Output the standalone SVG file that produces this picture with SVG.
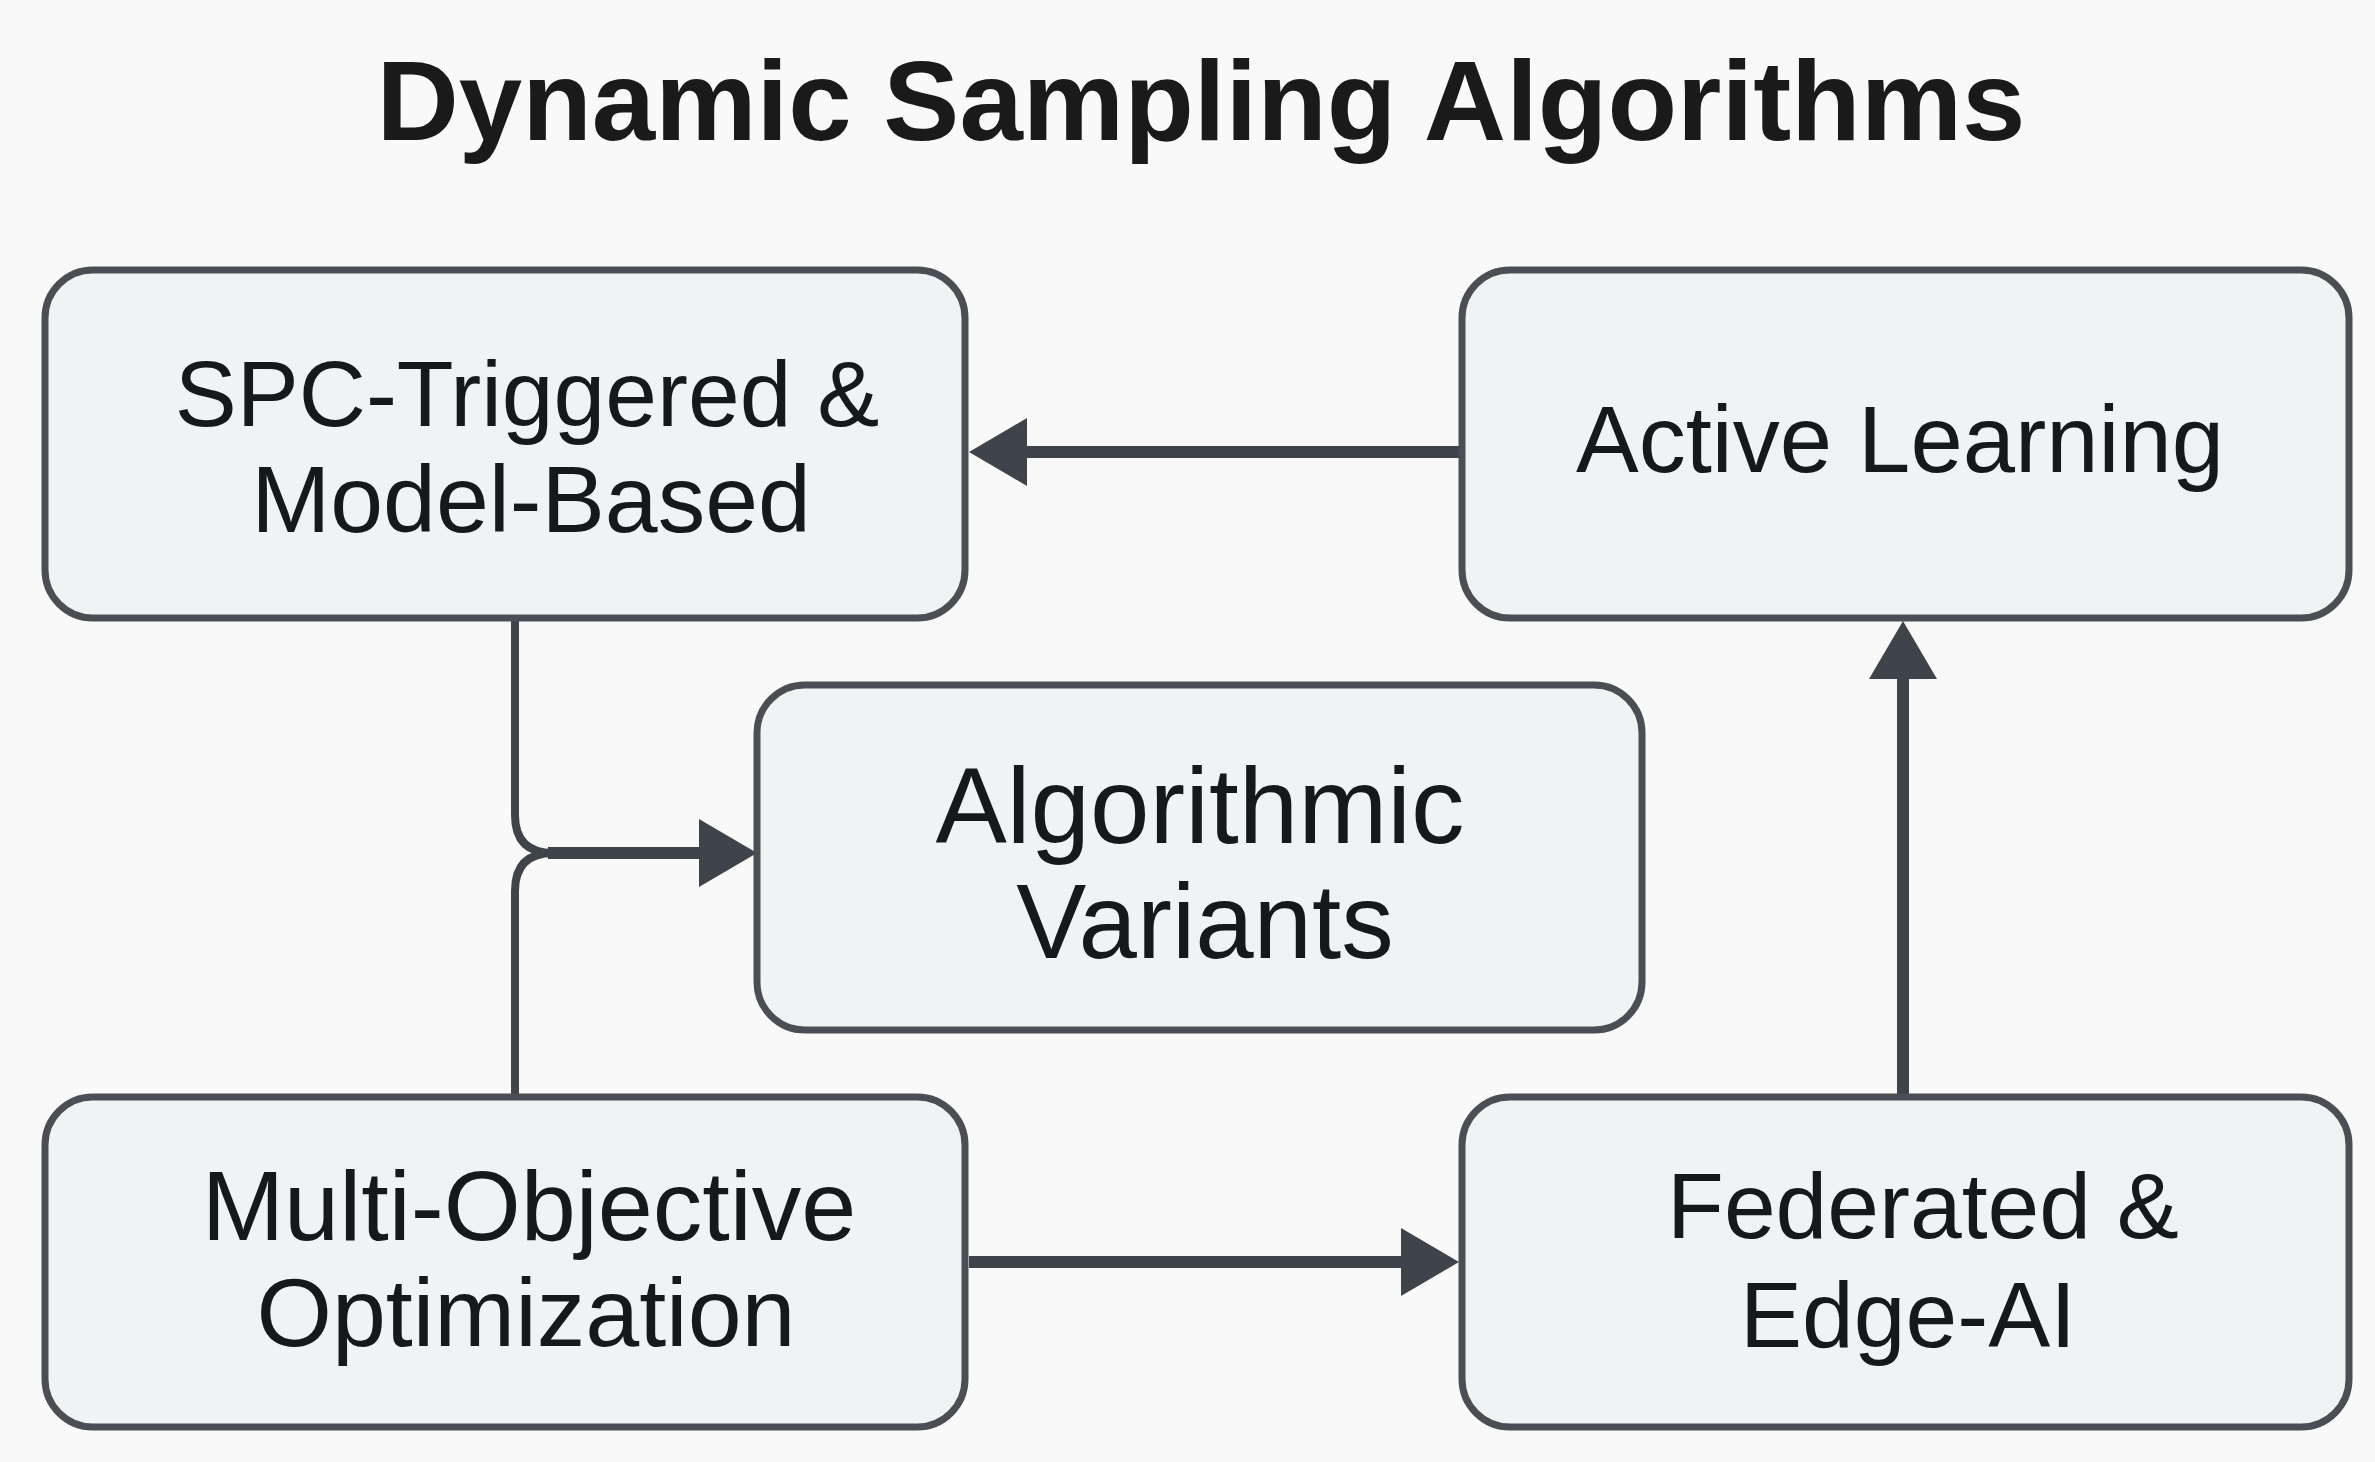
<svg xmlns="http://www.w3.org/2000/svg" width="2375" height="1462" viewBox="0 0 2375 1462">
<style>
.bg{fill:#f9f9f9}
.box{fill:#f1f2f4;stroke:#4b4f55;stroke-width:7}
.lbl{font-family:"Liberation Sans",Arial,sans-serif;fill:#16181b;text-anchor:middle}
.title{font-family:"Liberation Sans",Arial,sans-serif;font-weight:bold;fill:#1a1a1a;text-anchor:middle;font-size:114px}
.ln{fill:none;stroke:#3f434a;stroke-width:12}
.ln2{fill:none;stroke:#3f434a;stroke-width:8}
.ah{fill:#3f434a}
</style>
<rect class="bg" x="0" y="0" width="2375" height="1462"/>
<text class="title" x="1201" y="140">Dynamic Sampling Algorithms</text>
<g id="connectors">
  <line class="ln" x1="1462" y1="452" x2="1022" y2="452"/>
  <polygon class="ah" points="969,452 1027,418 1027,486"/>
  <path class="ln2" d="M515,618 V815 Q515,853 553,853"/>
  <path class="ln2" d="M515,1097 V891 Q515,853 553,853"/>
  <line class="ln" x1="548" y1="853" x2="704" y2="853"/>
  <polygon class="ah" points="757,853 699,819 699,887"/>
  <line class="ln" x1="969" y1="1262" x2="1406" y2="1262"/>
  <polygon class="ah" points="1459,1262 1401,1228 1401,1296"/>
  <line class="ln" x1="1903" y1="1097" x2="1903" y2="672"/>
  <polygon class="ah" points="1903,621 1869,679 1937,679"/>
</g>
<g id="node-spc">
  <rect class="box" x="45" y="270" width="920" height="348" rx="48"/>
  <text class="lbl" font-size="93" x="527" y="426">SPC-Triggered &amp;</text>
  <text class="lbl" font-size="95" x="531" y="532">Model-Based</text>
</g>
<g id="node-active">
  <rect class="box" x="1462" y="270" width="887" height="348" rx="48"/>
  <text class="lbl" font-size="94" x="1900" y="472">Active Learning</text>
</g>
<g id="node-variants">
  <rect class="box" x="757" y="685" width="885" height="345" rx="48"/>
  <text class="lbl" font-size="107" x="1200" y="843">Algorithmic</text>
  <text class="lbl" font-size="105" x="1205" y="958">Variants</text>
</g>
<g id="node-multi">
  <rect class="box" x="45" y="1097" width="920" height="330" rx="48"/>
  <text class="lbl" font-size="99" x="529" y="1240">Multi-Objective</text>
  <text class="lbl" font-size="97" x="526" y="1346">Optimization</text>
</g>
<g id="node-federated">
  <rect class="box" x="1462" y="1097" width="887" height="330" rx="48"/>
  <text class="lbl" font-size="93" x="1923" y="1238">Federated &amp;</text>
  <text class="lbl" font-size="93" x="1908" y="1347">Edge-AI</text>
</g>
</svg>
